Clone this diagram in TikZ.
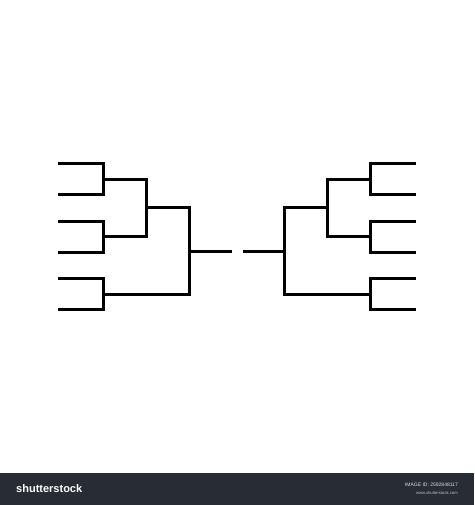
\documentclass[tikz,border=0pt]{standalone}
\usepackage{fontspec}
\setmainfont{Liberation Sans}
\definecolor{barcol}{HTML}{282C35}
\begin{document}
\begin{tikzpicture}[x=1pt,y=-1pt,
  bracket/.style={line width=2.6pt,line join=miter,line cap=butt,black}]
\useasboundingbox (0,0) rectangle (474,505);
\fill[white] (0,0) rectangle (474,505);
% left side coordinates
\coordinate (a1) at (58,163.5);
\coordinate (a2) at (58,194.5);
\coordinate (a3) at (58,221.5);
\coordinate (a4) at (58,252.5);
\coordinate (a5) at (58,278.5);
\coordinate (a6) at (58,309.5);
\coordinate (la) at (103.5,179.5);
\coordinate (lb) at (103.5,236.5);
\coordinate (lc) at (103.5,294.5);
\coordinate (lm) at (146.5,207.5);
\coordinate (lr) at (189.5,251.5);
\coordinate (lf) at (232,251.5);
% right side coordinates
\coordinate (b1) at (416,163.5);
\coordinate (b2) at (416,194.5);
\coordinate (b3) at (416,221.5);
\coordinate (b4) at (416,252.5);
\coordinate (b5) at (416,278.5);
\coordinate (b6) at (416,309.5);
\coordinate (ra) at (370.5,179.5);
\coordinate (rb) at (370.5,236.5);
\coordinate (rc) at (370.5,294.5);
\coordinate (rm) at (327.5,207.5);
\coordinate (rr) at (284.5,251.5);
\coordinate (rf) at (243,251.5);
% left bracket
\draw[bracket] (a1) -| (la) |- (a2);
\draw[bracket] (a3) -| (lb) |- (a4);
\draw[bracket] (a5) -| (lc) |- (a6);
\draw[bracket] (la) -| (lm) |- (lb);
\draw[bracket] (lm) -| (lr) |- (lc);
\draw[bracket] (lr) -- (lf);
% right bracket
\draw[bracket] (b1) -| (ra) |- (b2);
\draw[bracket] (b3) -| (rb) |- (b4);
\draw[bracket] (b5) -| (rc) |- (b6);
\draw[bracket] (ra) -| (rm) |- (rb);
\draw[bracket] (rm) -| (rr) |- (rc);
\draw[bracket] (rr) -- (rf);
% bottom bar
\fill[barcol] (0,473) rectangle (474,505);
\node[anchor=west,text=white,font=\bfseries\fontsize{11}{12}\selectfont,inner sep=0pt] (logo) at (16,488.5) {shutterstock};
\node[anchor=east,text=white!85!barcol,font=\fontsize{5}{6}\selectfont,inner sep=0pt] (imgid) at (458,485) {IMAGE ID: 2592848117};
\node[anchor=east,text=white!70!barcol,font=\fontsize{4.2}{5}\selectfont,inner sep=0pt] (www) at (458,493) {www.shutterstock.com};
\end{tikzpicture}
\end{document}
